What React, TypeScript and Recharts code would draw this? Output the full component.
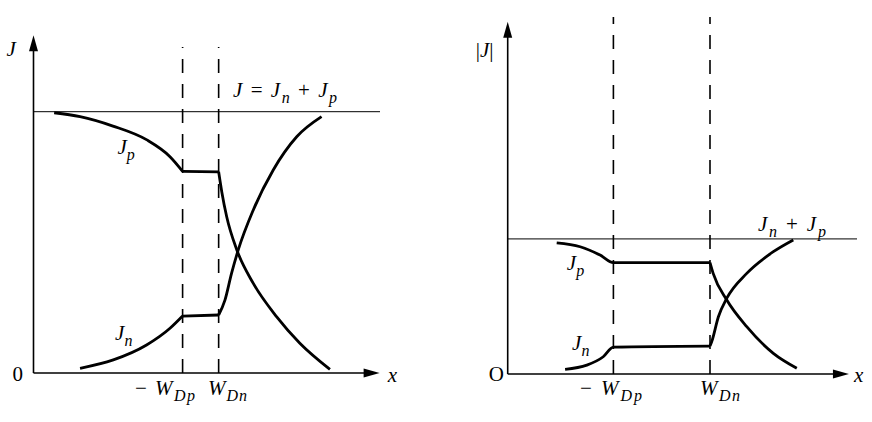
import React from "react";
import { LineChart, Line, XAxis, YAxis, ReferenceLine, ReferenceDot } from "recharts";

const SERIF = "'Liberation Serif', 'DejaVu Serif', serif";

// ---------- Left panel: forward bias (J normalised to total = 1) ----------
const fwdTotal = 1.0;
const fwdDp = 42.6; // -W_Dp
const fwdDn = 52.9; // W_Dn
const fwdJpLeft = [
  { x: 5.9, y: 0.996 }, { x: 13.3, y: 0.981 }, { x: 22.7, y: 0.945 },
  { x: 32.4, y: 0.892 }, { x: 39.0, y: 0.828 }, { x: 42.6, y: 0.772 },
];
const fwdJpFlat = [{ x: 42.6, y: 0.772 }, { x: 52.9, y: 0.770 }];
const fwdJpRight = [
  { x: 52.9, y: 0.770 }, { x: 53.8, y: 0.693 }, { x: 55.2, y: 0.598 },
  { x: 58.1, y: 0.471 }, { x: 62.8, y: 0.343 }, { x: 69.5, y: 0.215 },
  { x: 76.1, y: 0.114 }, { x: 84.7, y: 0.014 },
];
const fwdJnLeft = [
  { x: 13.3, y: 0.018 }, { x: 22.8, y: 0.050 }, { x: 32.3, y: 0.107 },
  { x: 39.0, y: 0.171 }, { x: 42.6, y: 0.218 },
];
const fwdJnFlat = [{ x: 42.6, y: 0.218 }, { x: 52.9, y: 0.222 }];
const fwdJnRight = [
  { x: 52.9, y: 0.222 }, { x: 54.7, y: 0.279 }, { x: 56.6, y: 0.382 },
  { x: 58.5, y: 0.471 }, { x: 62.8, y: 0.624 }, { x: 68.5, y: 0.777 },
  { x: 75.2, y: 0.904 }, { x: 82.3, y: 0.981 },
];

// ---------- Right panel: reverse bias (|J|, same scale) ----------
const revTotal = 0.517;
const revDp = 30.2;
const revDn = 57.8;
const revJpLeft = [
  { x: 14.0, y: 0.502 }, { x: 20.7, y: 0.487 }, { x: 26.4, y: 0.455 },
  { x: 30.2, y: 0.426 }, { x: 57.8, y: 0.426 },
];
const revJpRight = [
  { x: 57.8, y: 0.426 }, { x: 58.7, y: 0.385 }, { x: 62.6, y: 0.283 },
  { x: 68.3, y: 0.181 }, { x: 75.9, y: 0.079 }, { x: 82.6, y: 0.022 },
];
const revJnLeft = [
  { x: 16.4, y: 0.018 }, { x: 22.6, y: 0.034 }, { x: 27.3, y: 0.066 },
  { x: 30.2, y: 0.103 }, { x: 57.8, y: 0.107 },
];
const revJnRight = [
  { x: 57.8, y: 0.107 }, { x: 58.3, y: 0.124 }, { x: 60.2, y: 0.219 },
  { x: 62.6, y: 0.290 }, { x: 68.3, y: 0.385 }, { x: 75.9, y: 0.468 },
  { x: 81.6, y: 0.513 },
];

type Part = { t: string; sub?: boolean; up?: boolean };
type Lbl = { x: number; y: number; dx?: number; dy?: number; parts: Part[]; len?: number };

function Tex({ x, y, parts, len }: { x: number; y: number; parts: Part[]; len?: number }) {
  let shifted = false;
  const kids = parts.map((p, i) => {
    const want = !!p.sub;
    const dy = want === shifted ? 0 : want ? 6 : -6;
    shifted = want;
    return (
      <tspan
        key={i}
        dy={dy}
        style={{ fontFamily: SERIF, fontSize: p.sub ? 16 : 21, fontStyle: p.up ? "normal" : "italic" }}
      >
        {p.t}
      </tspan>
    );
  });
  return (
    <text
      x={x}
      y={y}
      fill="#000"
      textLength={len}
      lengthAdjust={len ? "spacing" : undefined}
      style={{ fontFamily: SERIF, fontSize: 21, whiteSpace: "pre" }}
    >
      {kids}
    </text>
  );
}

const J: Part = { t: "J" };
const fwdLabels: Lbl[] = [
  { x: 0, y: 1.293, dx: -27, dy: 21, parts: [J] },
  { x: 57.0, y: 1.057, parts: [J, { t: " = ", up: true }, J, { t: "n", sub: true }, { t: " + ", up: true }, J, { t: "p", sub: true }], len: 104 },
  { x: 24.0, y: 0.84, parts: [J, { t: "p", sub: true }] },
  { x: 23.3, y: 0.126, parts: [J, { t: "n", sub: true }] },
  { x: 0, y: 0, dx: -21, dy: 8, parts: [{ t: "0", up: true }] },
  { x: 98.9, y: 0, dx: 8, dy: 9, parts: [{ t: "x" }] },
  { x: fwdDp, y: 0, dx: -47.7, dy: 22, parts: [{ t: "− ", up: true }, { t: "W" }, { t: "Dp", sub: true }], len: 60 },
  { x: fwdDn, y: 0, dx: -10.7, dy: 22, parts: [{ t: "W" }, { t: "Dn", sub: true }], len: 39 },
];
const revLabels: Lbl[] = [
  { x: 0, y: 1.348, dx: -32, dy: 35, parts: [{ t: "|", up: true }, J, { t: "|", up: true }] },
  { x: 71.5, y: revTotal, dx: 0, dy: -8, parts: [J, { t: "n", sub: true }, { t: " + ", up: true }, J, { t: "p", sub: true }], len: 68 },
  { x: 16.9, y: 0.398, parts: [J, { t: "p", sub: true }] },
  { x: 18.4, y: 0.092, parts: [J, { t: "n", sub: true }] },
  { x: 0, y: 0, dx: -19, dy: 7, parts: [{ t: "O", up: true }] },
  { x: 97.5, y: 0, dx: 5, dy: 8, parts: [{ t: "x" }] },
  { x: revDp, y: 0, dx: -33.3, dy: 21, parts: [{ t: "− ", up: true }, { t: "W" }, { t: "Dp", sub: true }], len: 62 },
  { x: revDn, y: 0, dx: -10, dy: 21, parts: [{ t: "W" }, { t: "Dn", sub: true }], len: 40 },
];

const arrowUp = (p: any) => (
  <polygon points={`${p.cx},${p.cy} ${p.cx - 4.5},${p.cy + 16} ${p.cx + 4.5},${p.cy + 16}`} fill="#000" />
);
const arrowRight = (p: any) => (
  <polygon points={`${p.cx},${p.cy} ${p.cx - 16},${p.cy - 4.5} ${p.cx - 16},${p.cy + 4.5}`} fill="#000" />
);

type PanelProps = {
  left: number;
  margin: { top: number; right: number; bottom: number; left: number };
  yMax: number;
  total: number;
  totalEnd: number;
  tipX: number;
  tipY: number;
  dp: number;
  dn: number;
  dashTop: number;
  curves: { x: number; y: number }[][];
  labels: Lbl[];
};

function Panel(props: PanelProps) {
  const { left, margin, yMax, total, totalEnd, tipX, tipY, dp, dn, dashTop, curves, labels } = props;
  return (
    <div style={{ position: "absolute", left, top: 0, width: 436, height: 422 }}>
      <LineChart width={436} height={422} margin={margin}>
        <XAxis type="number" dataKey="x" domain={[0, 100]} allowDataOverflow hide />
        <YAxis type="number" dataKey="y" domain={[0, yMax]} allowDataOverflow hide />
        <ReferenceLine segment={[{ x: dp, y: 0 }, { x: dp, y: dashTop }]} stroke="#000" strokeWidth={1.6} strokeDasharray="14 11" ifOverflow="visible" />
        <ReferenceLine segment={[{ x: dn, y: 0 }, { x: dn, y: dashTop }]} stroke="#000" strokeWidth={1.6} strokeDasharray="14 11" ifOverflow="visible" />
        <ReferenceLine segment={[{ x: 0, y: total }, { x: totalEnd, y: total }]} stroke="#000" strokeWidth={1} ifOverflow="visible" />
        <ReferenceLine segment={[{ x: 0, y: 0 }, { x: tipX - 3, y: 0 }]} stroke="#000" strokeWidth={1.6} ifOverflow="visible" />
        <ReferenceLine segment={[{ x: 0, y: 0 }, { x: 0, y: tipY - 0.02 }]} stroke="#000" strokeWidth={1.6} ifOverflow="visible" />
        <ReferenceDot x={tipX} y={0} r={0} ifOverflow="visible" shape={arrowRight} />
        <ReferenceDot x={0} y={tipY} r={0} ifOverflow="visible" shape={arrowUp} />
        {curves.map((c, i) => (
          <Line
            key={i}
            data={c}
            dataKey="y"
            type="monotone"
            stroke="#000"
            strokeWidth={2.8}
            dot={false}
            activeDot={false}
            isAnimationActive={false}
          />
        ))}
        {labels.map((l, i) => (
          <ReferenceDot
            key={"l" + i}
            x={l.x}
            y={l.y}
            r={0}
            ifOverflow="visible"
            shape={(p: any) => <Tex x={p.cx + (l.dx || 0)} y={p.cy + (l.dy || 0)} parts={l.parts} len={l.len} />}
          />
        ))}
      </LineChart>
    </div>
  );
}

export default function App() {
  return (
    <div style={{ position: "absolute", left: 0, top: 0, width: 872, height: 422, background: "#fff", overflow: "hidden" }}>
      <Panel
        left={0}
        margin={{ top: 33.31, right: 52.5, bottom: 49, left: 33.5 }}
        yMax={1.3}
        total={fwdTotal}
        totalEnd={99}
        tipX={98.9}
        tipY={1.293}
        dp={fwdDp}
        dn={fwdDn}
        dashTop={1.248}
        curves={[fwdJpLeft, fwdJpFlat, fwdJpRight, fwdJnLeft, fwdJnFlat, fwdJnRight]}
        labels={fwdLabels}
      />
      <Panel
        left={436}
        margin={{ top: 8.18, right: 14.3, bottom: 48, left: 71.7 }}
        yMax={1.4}
        total={revTotal}
        totalEnd={99.8}
        tipX={97.5}
        tipY={1.348}
        dp={revDp}
        dn={revDn}
        dashTop={1.366}
        curves={[revJpLeft, revJpRight, revJnLeft, revJnRight]}
        labels={revLabels}
      />
    </div>
  );
}
